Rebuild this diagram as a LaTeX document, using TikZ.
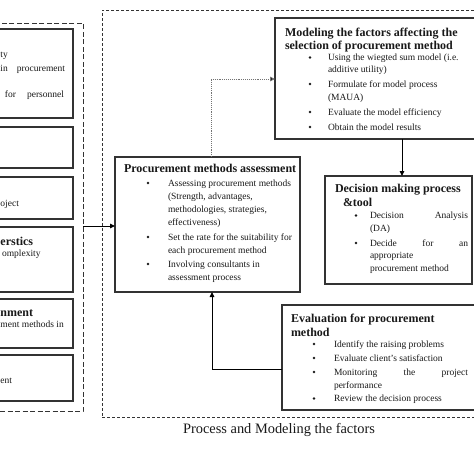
\documentclass[tikz,border=0pt]{standalone}
\usepackage{fontspec}
\setmainfont{Liberation Serif}
\usetikzlibrary{arrows.meta,calc}
\begin{document}
\begin{tikzpicture}[x=1pt,y=-1pt,
  box/.style={draw=black!80,line width=1.1pt,rectangle,inner sep=0pt,outer sep=0pt},
  ldash/.style={draw=black!80,line width=1pt,dash pattern=on 5pt off 2.5pt,rectangle,inner sep=0pt,outer sep=0pt},
  rdash/.style={draw=black!80,line width=0.9pt,dash pattern=on 3pt off 2pt,rectangle,inner sep=0pt,outer sep=0pt},
  txt/.style={inner sep=0pt,outer sep=0pt,text=black!90,font=\fontsize{9.5}{11}\selectfont,anchor=base west},
  ttl/.style={inner sep=0pt,outer sep=0pt,text=black!90,font=\fontsize{12}{13}\selectfont\bfseries,anchor=base west},
  arr/.style={draw=black,line width=1pt,-{Triangle[length=5pt,width=4.5pt]}},
  dotarr/.style={draw=black!55,line width=0.9pt,densely dotted,-{Triangle[length=5pt,width=4.5pt,fill=black]}},
  bul/.style={fill=black!90}
]
\useasboundingbox (0,0) rectangle (474,474);
\clip (0,0) rectangle (474,474);
\fill[white] (0,0) rectangle (474,474);

% left panel
\node[ldash,minimum width=143,minimum height=388] (lpanel) at (11.5,217) {};
\node[box,minimum width=133,minimum height=89] (l1) at (6.5,73.5) {};
\node[box,minimum width=133,minimum height=41] (l2) at (6.5,147.5) {};
\node[box,minimum width=133,minimum height=42] (l3) at (6.5,198) {};
\node[box,minimum width=133,minimum height=65] (l4) at (6.5,259.5) {};
\node[box,minimum width=133,minimum height=49] (l5) at (6.5,323.5) {};
\node[box,minimum width=133,minimum height=46] (l6) at (6.5,378) {};

\node[txt] (l1a) at (0.5,57) {ty};
\node[txt] (l1b) at (0.5,71) {\makebox[64.5pt][s]{in procurement}};
\node[txt] (l1c) at (5,97) {\makebox[59pt][s]{for personnel}};
\node[txt] (l3a) at (0.5,206) {oject};
\node[ttl] (l4a) at (0.5,245) {erstics};
\node[txt] (l4b) at (2,256) {omplexity};
\node[ttl] (l5a) at (0.5,316) {nment};
\node[txt] (l5b) at (0.5,327) {ment methods in};
\node[txt] (l6a) at (0.5,383) {ent};

% right panel
\node[rdash,minimum width=390,minimum height=407] (rpanel) at (297,213.5) {};

% modeling box
\node[box,minimum width=205,minimum height=121] (model) at (377.5,78.5) {};
\node[ttl] (mt1) at (285,36) {Modeling the factors affecting the};
\node[ttl] (mt2) at (285,49.5) {selection of procurement method};
\node[txt] (m1) at (328,60.5) {Using the wiegted sum model (i.e.};
\node[txt] (m2) at (328,72.5) {additive utility)};
\node[txt] (m3) at (328,87) {Formulate for model process};
\node[txt] (m4) at (328,100) {(MAUA)};
\node[txt] (m5) at (328,115) {Evaluate the model efficiency};
\node[txt] (m6) at (328,130) {Obtain the model results};
\foreach \y in {57.5,84,112,127} \fill[bul] (310,\y) circle (1.4);

% procurement box
\node[box,minimum width=185,minimum height=135] (proc) at (207.5,224.5) {};
\node[ttl] (pt) at (124,172) {Procurement methods assessment};
\node[txt] (p1) at (168,186) {Assessing procurement methods};
\node[txt] (p2) at (168,199) {(Strength, advantages,};
\node[txt] (p3) at (168,212.5) {methodologies, strategies,};
\node[txt] (p4) at (168,225.5) {effectiveness)};
\node[txt] (p5) at (168,240) {Set the rate for the suitability for};
\node[txt] (p6) at (168,253.5) {each procurement method};
\node[txt] (p7) at (168,267) {Involving consultants in};
\node[txt] (p8) at (168,280) {assessment process};
\foreach \y in {183,237,264} \fill[bul] (148,\y) circle (1.4);

% decision box
\node[box,minimum width=147,minimum height=108] (dec) at (398.5,230) {};
\node[ttl] (dt1) at (335,192) {Decision making process};
\node[ttl] (dt2) at (343,206) {\&tool};
\node[txt] (d1) at (370,218.5) {\makebox[98pt][s]{Decision Analysis}};
\node[txt] (d2) at (370,231) {(DA)};
\node[txt] (d3) at (370,246) {\makebox[98pt][s]{Decide for an}};
\node[txt] (d4) at (370,258.5) {appropriate};
\node[txt] (d5) at (370,271) {procurement method};
\foreach \y in {215.5,243} \fill[bul] (356,\y) circle (1.4);

% evaluation box
\node[box,minimum width=198,minimum height=105] (eval) at (381,357.5) {};
\node[ttl] (et1) at (291,322) {Evaluation for procurement};
\node[ttl] (et2) at (291,336) {method};
\node[txt] (e1) at (334,347) {Identify the raising problems};
\node[txt] (e2) at (334,361) {Evaluate client's satisfaction};
\node[txt] (e3) at (334,375) {\makebox[134pt][s]{Monitoring the project}};
\node[txt] (e4) at (334,388) {performance};
\node[txt] (e5) at (334,401.5) {Review the decision process};
\foreach \y in {344,358,372,398.5} \fill[bul] (314,\y) circle (1.4);

% caption
\node[inner sep=0pt,anchor=base,text=black!90,font=\fontsize{14.4}{16}\selectfont] (cap) at (279,433) {Process and Modeling the factors};

% connectors
\coordinate (ca) at (0,226);
\draw[arr] (lpanel.east |- ca) -- (proc.west |- ca);
\coordinate (cd) at (211,79);
\draw[dotarr] (proc.north -| cd) -- (cd) -- (model.west |- cd);
\coordinate (cm) at (402,0);
\draw[arr] (model.south -| cm) -- (dec.north -| cm);
\coordinate (ce) at (212,369);
\draw[arr] (eval.west |- ce) -- (ce) -- (proc.south -| ce);
\end{tikzpicture}
\end{document}
